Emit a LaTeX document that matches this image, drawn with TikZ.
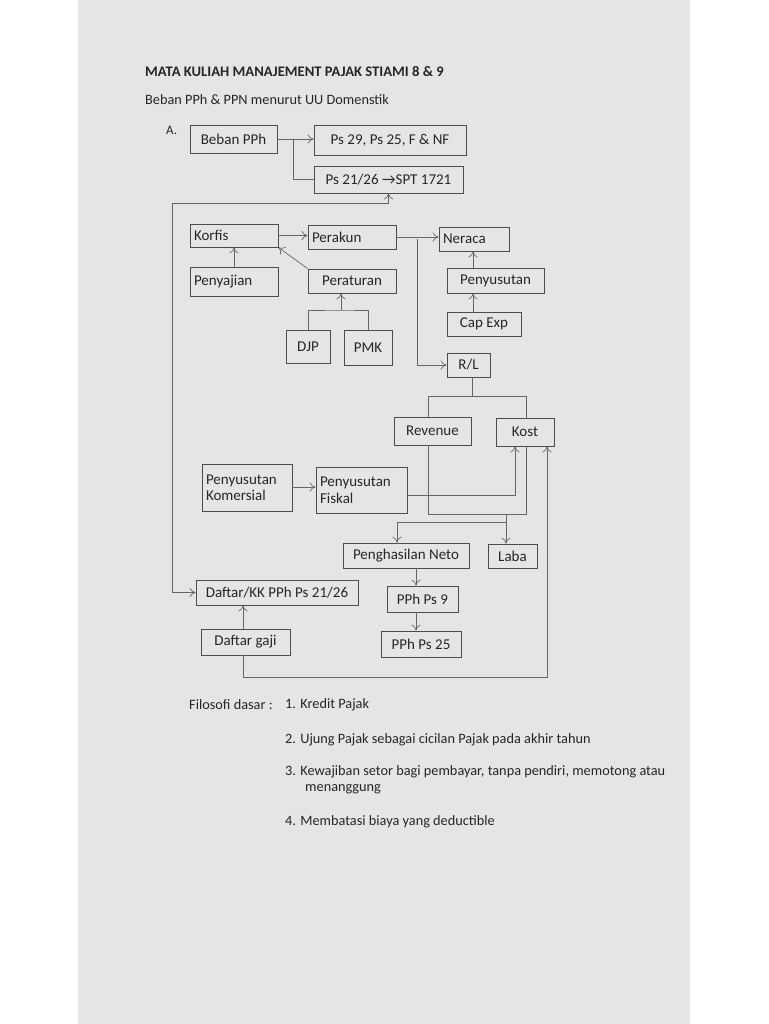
\documentclass[tikz,border=0pt]{standalone}
\usepackage{fontspec}
\setmainfont{Carlito}
\usetikzlibrary{arrows.meta}
\begin{document}
\begin{tikzpicture}[x=1pt,y=-1pt,
  bx/.style={draw=black!70,line width=0.8pt,fill=paper,inner sep=2pt,font=\fontsize{15}{16.5}\selectfont,text=black!85},
  ln/.style={draw=black!60,line width=0.7pt},
  ar/.style={ln,->,>={To[length=6pt,width=9pt]}},
  tx/.style={anchor=west,inner sep=0pt,font=\fontsize{14.3}{16}\selectfont,text=black!85}]
\definecolor{paper}{HTML}{E5E5E3}
\useasboundingbox (0,0) rectangle (768,1024);
\fill[white] (0,0) rectangle (768,1024);
\fill[paper] (78,0) rectangle (690,1024);
% texts
\node[tx,font=\fontsize{14.6}{16}\selectfont\bfseries] (title) at (145,72) {MATA KULIAH MANAJEMENT PAJAK STIAMI 8 \& 9};
\node[tx] (sub) at (145,100) {Beban PPh \& PPN menurut UU Domenstik};
\node[tx,font=\fontsize{13}{15}\selectfont] (A) at (166,130) {A.};
% boxes
\node[bx,minimum width=87,minimum height=28] (beban) at (233.5,139) {Beban PPh};
\node[bx,minimum width=152,minimum height=30] (ps29) at (390,140) {Ps 29, Ps 25, F \& NF};
\node[bx,minimum width=149,minimum height=27] (ps21) at (388.5,179.5) {Ps 21/26 →SPT 1721};
\node[bx,minimum width=88,minimum height=23,text width=80,align=left] (korfis) at (234,235.5) {Korfis};
\node[bx,minimum width=88,minimum height=24,text width=80,align=left] (perakun) at (352,237) {Perakun};
\node[bx,minimum width=70,minimum height=24,text width=62,align=left] (neraca) at (474,239) {Neraca};
\node[bx,minimum width=88,minimum height=29,text width=80,align=left] (penyajian) at (234,281.5) {Penyajian};
\node[bx,minimum width=88,minimum height=24] (peraturan) at (352,281) {Peraturan};
\node[bx,minimum width=97,minimum height=25] (penyusutan) at (495.5,280.5) {Penyusutan};
\node[bx,minimum width=74,minimum height=24] (capexp) at (484,324) {Cap Exp};
\node[bx,minimum width=44,minimum height=33] (djp) at (308,346.5) {DJP};
\node[bx,minimum width=48,minimum height=35] (pmk) at (368,347.5) {PMK};
\node[bx,minimum width=43,minimum height=24] (rl) at (468.5,365) {R/L};
\node[bx,minimum width=77,minimum height=28] (revenue) at (432.5,431) {Revenue};
\node[bx,minimum width=58,minimum height=28] (kost) at (525,432) {Kost};
\node[bx,minimum width=90,minimum height=47,text width=82,align=left] (pk) at (247,487.5) {Penyusutan\\Komersial};
\node[bx,minimum width=91,minimum height=46,text width=83,align=left] (pf) at (361.5,490) {Penyusutan\\Fiskal};
\node[bx,minimum width=126,minimum height=25] (pn) at (406,555.5) {Penghasilan Neto};
\node[bx,minimum width=49,minimum height=24] (laba) at (512.5,556) {Laba};
\node[bx,minimum width=162,minimum height=25] (daftar) at (277,592.5) {Daftar/KK PPh Ps 21/26};
\node[bx,minimum width=71,minimum height=26] (pph9) at (422.5,599) {PPh Ps 9};
\node[bx,minimum width=80,minimum height=26] (pph25) at (421,644) {PPh Ps 25};
\node[bx,minimum width=89,minimum height=26] (gaji) at (245.5,642) {Daftar gaji};
% connectors
\draw[ar] (beban.east) -- (beban.east -| ps29.west);
\coordinate (b1) at (293,139);
\draw[ln] (b1) |- (ps21.west);
\coordinate (loopA) at (172,203);
\draw[ar] (loopA -| ps21.south) -- (ps21.south);
\draw[ar] (loopA -| ps21.south) -- (loopA) |- (daftar.west);
\draw[ar] (korfis.east) -- (korfis.east -| perakun.west);
\draw[ar] (penyajian.north) -- (korfis.south);
\draw[ar] (peraturan.north west) -- (korfis.south east);
\coordinate (dj) at (341,310);
\draw[ln] (djp.north) |- (dj) -| (pmk.north);
\draw[ar] (dj) -- (peraturan.south -| dj);
\draw[ar] (perakun.east) -- (perakun.east -| neraca.west);
\coordinate (pb) at (417,239);
\draw[ar] (pb) |- (rl.west);
\draw[ar] (penyusutan.north -| 473,0) -- (neraca.south -| 473,0);
\draw[ar] (capexp.north -| 473,0) -- (penyusutan.south -| 473,0);
% R/L to revenue/kost
\coordinate (rlb) at (472,396);
\draw[ln] (rl.south -| rlb) -- (rlb);
\draw[ln] (428,396) -- (526,396);
\draw[ln] (428,396) -- (revenue.north -| 428,0);
\draw[ln] (526,396) -- (kost.north -| 526,0);
\coordinate (bl) at (428,514);
\coordinate (br) at (526,514);
\draw[ln] (revenue.south -| bl) -- (bl) -- (br) -- (kost.south -| br);
\coordinate (lj) at (506,514);
\draw[ar] (lj) -- (laba.north -| lj);
\coordinate (pj) at (506,522);
\draw[ar] (pj) -- (397,522) -- (pn.north -| 397,0);
\draw[ar] (pk.east |- 0,487) -- (pf.west |- 0,487);
\coordinate (fk) at (515,495);
\draw[ar] (pf.east |- fk) -- (fk) -- (kost.south -| fk);
\draw[ar] (pn.south -| 416,0) -- (pph9.north -| 416,0);
\draw[ar] (pph9.south -| 416,0) -- (pph25.north -| 416,0);
\draw[ar] (gaji.north -| 243,0) -- (daftar.south -| 243,0);
\coordinate (gb) at (243,677);
\draw[ar] (gaji.south -| gb) -- (gb) -- (547,677) -- (kost.south -| 547,0);
% filosofi
\node[tx] (f0) at (189,705) {Filosofi dasar :};
\node[tx] (f1) at (285,705) {1. Kredit Pajak};
\node[tx] (f2) at (285,740) {2. Ujung Pajak sebagai cicilan Pajak pada akhir tahun};
\node[tx] (f3) at (285,772) {3. Kewajiban setor bagi pembayar, tanpa pendiri, memotong atau};
\node[tx] (f3b) at (305,789) {menanggung};
\node[tx] (f4) at (285,822) {4. Membatasi biaya yang deductible};
\end{tikzpicture}
\end{document}
